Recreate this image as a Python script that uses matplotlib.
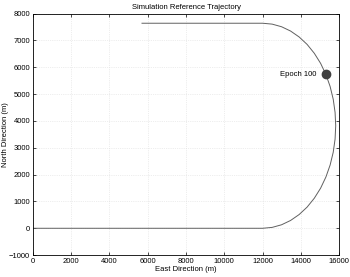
import matplotlib.pyplot as plt

plt.rcParams['font.family'] = ['Liberation Sans', 'DejaVu Sans']

# trajectory (east, north in metres)
east = [0, 12000, 12499, 12989, 13462, 13910, 14326, 14701, 15031, 15308,
        15529, 15690, 15787, 15820, 15787, 15690, 15529, 15308, 15031,
        14701, 14326, 13910, 13462, 12989, 12499, 12000, 5700]
north = [0, 0, 33, 130, 291, 512, 789, 1119, 1494, 1910,
         2358, 2831, 3321, 3820, 4319, 4809, 5282, 5730, 6146,
         6521, 6851, 7128, 7349, 7510, 7607, 7640, 7640]

epoch_label = 'Epoch 100'
epoch_east = 15300
epoch_north = 5730

fig = plt.figure(figsize=(3.5, 2.77), dpi=100)
ax = fig.add_axes([0.094, 0.079, 0.875, 0.872])

ax.plot(east, north, color='#606060', linewidth=0.7)
ax.plot([epoch_east], [epoch_north], 'o', color='#404040', markersize=6)
ax.annotate(epoch_label, (epoch_east, epoch_north), xytext=(-7, 0),
            textcoords='offset points', ha='right', va='center', fontsize=5.5)

ax.set_xlim(0, 16000)
ax.set_ylim(-1000, 8000)
ax.set_xticks(range(0, 16001, 2000))
ax.set_yticks(range(-1000, 8001, 1000))
ax.tick_params(direction='in', top=True, right=True, labelsize=5.5, length=2.5,
               width=0.5, pad=2)
ax.grid(True, linestyle=':', color='#dddddd', linewidth=0.5)
for s in ax.spines.values():
    s.set_linewidth(0.6)

ax.set_title('Simulation Reference Trajectory', fontsize=5.5, pad=3)
ax.set_xlabel('East Direction (m)', fontsize=5.5, labelpad=1)
ax.set_ylabel('North Direction (m)', fontsize=5.5)
ax.yaxis.set_label_coords(-0.078, 0.5)

fig.savefig('out.png', dpi=100)
